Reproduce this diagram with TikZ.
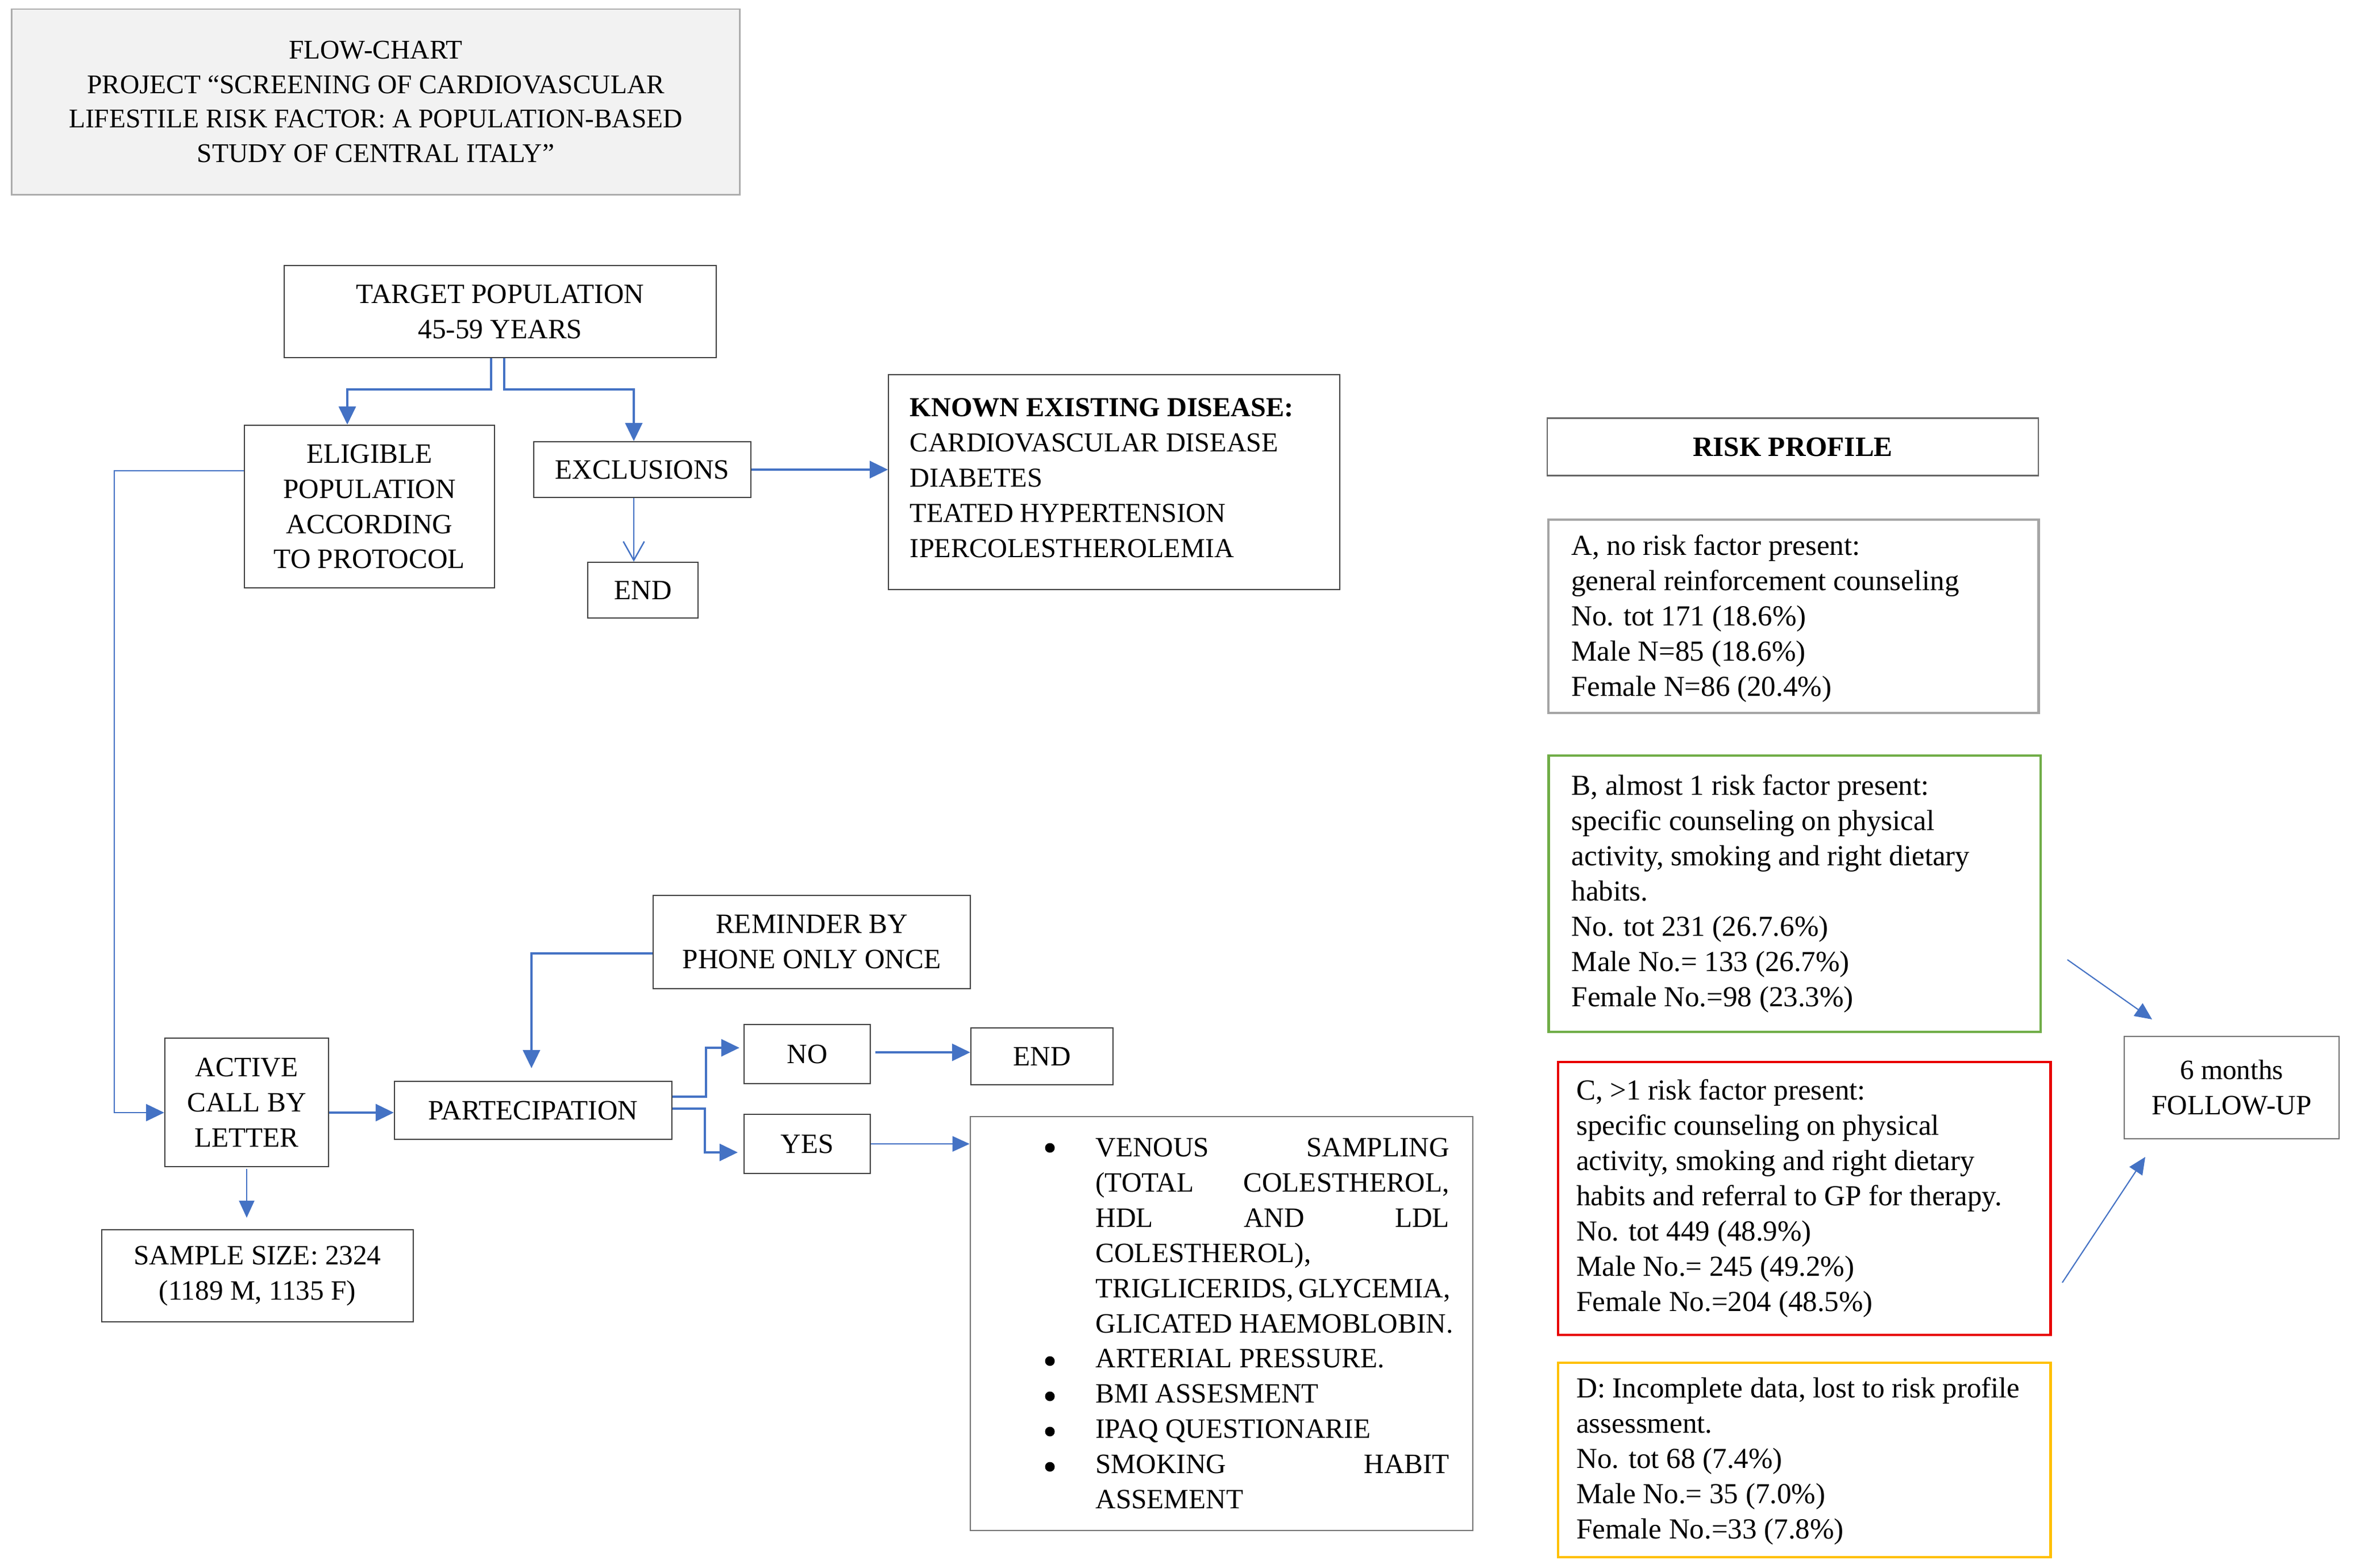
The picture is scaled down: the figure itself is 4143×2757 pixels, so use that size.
\documentclass[tikz,border=0pt]{standalone}
\usepackage{fontspec}
\setmainfont{Liberation Serif}
\usetikzlibrary{arrows.meta}
\definecolor{arrowblue}{HTML}{4472C4}
\definecolor{titlefill}{HTML}{F2F2F2}
\definecolor{rgray}{HTML}{A5A5A5}
\definecolor{rgreen}{HTML}{70AD47}
\definecolor{rred}{HTML}{E80000}
\definecolor{ryellow}{HTML}{FFC000}
\newcommand{\ListLine}[2]{\makebox[0.85cm][l]{}\makebox[6.22cm][#1]{#2}}
\begin{document}
\begin{tikzpicture}[x=0.01cm,y=-0.01cm,
  every node/.style={font=\fontsize{14}{17.6}\selectfont},
  box/.style={draw=black!75, line width=0.6pt, inner sep=0pt, align=center},
  rbox/.style={line width=1.3pt, inner sep=0pt},
  txt/.style={anchor=west, align=left, inner sep=0pt},
  rtxt/.style={txt, font=\fontsize{14.5}{17.6}\selectfont},
  dot/.style={fill=black},
  arr/.style={draw=arrowblue, line width=1.1pt, -{Triangle[length=0.32cm,width=0.3cm]}},
  arrmid/.style={draw=arrowblue, line width=0.8pt, -{Triangle[length=0.32cm,width=0.3cm]}},
  arrthin/.style={draw=arrowblue, line width=0.6pt, -{Triangle[length=0.3cm,width=0.27cm]}},
  openarr/.style={draw=arrowblue, line width=0.7pt, -{Straight Barb[length=0.33cm,width=0.37cm]}}
]
\useasboundingbox (0,0) rectangle (4143,2757);

% title
\node[draw=gray!65, fill=titlefill, line width=0.8pt, minimum width=12.81cm, minimum height=3.26cm, inner sep=0pt, align=center, font=\fontsize{13.5}{17.3}\selectfont] (title) at (661,179)
 {FLOW-CHART\\PROJECT “SCREENING OF CARDIOVASCULAR\\LIFESTILE RISK FACTOR: A POPULATION-BASED\\STUDY OF CENTRAL ITALY”};

% left flow
\node[box, minimum width=7.59cm, minimum height=1.62cm] (target) at (880,548) {TARGET POPULATION\\45-59 YEARS};
\node[box, minimum width=4.40cm, minimum height=2.86cm] (eligible) at (650,891) {ELIGIBLE\\POPULATION\\ACCORDING\\TO PROTOCOL};
\node[box, minimum width=3.82cm, minimum height=0.98cm] (exclusions) at (1130,826) {EXCLUSIONS};
\node[box, minimum width=1.94cm, minimum height=0.98cm] (end1) at (1131,1038) {END};
\node[box, minimum width=7.93cm, minimum height=3.77cm] (known) at (1960,848) {};
\node[txt, font=\fontsize{13.7}{17.6}\selectfont] (knowntxt) at ([xshift=0.38cm,yshift=0.07cm]known.west)
 {\textbf{KNOWN EXISTING DISEASE:}\\CARDIOVASCULAR DISEASE\\DIABETES\\TEATED HYPERTENSION\\IPERCOLESTHEROLEMIA};

\node[box, minimum width=2.88cm, minimum height=2.26cm] (active) at (434,1939) {ACTIVE\\CALL BY\\LETTER};
\node[box, minimum width=5.47cm, minimum height=1.62cm] (sample) at (453,2244) {SAMPLE SIZE: 2324\\(1189 M, 1135 F)};
\node[box, minimum width=4.88cm, minimum height=1.02cm] (partecipation) at (938,1953) {PARTECIPATION};
\node[box, minimum width=5.58cm, minimum height=1.64cm] (reminder) at (1428,1657) {REMINDER BY\\PHONE ONLY ONCE};
\node[box, minimum width=2.22cm, minimum height=1.04cm] (no) at (1420,1854) {NO};
\node[box, minimum width=2.22cm, minimum height=1.04cm] (yes) at (1420,2012) {YES};
\node[box, minimum width=2.50cm, minimum height=1.00cm] (end2) at (1833,1858) {END};
\node[box, draw=black!55, minimum width=8.84cm, minimum height=7.28cm] (list) at (2149,2328) {};
\node[txt] (listtxt) at ([xshift=1.36cm]list.west)
 {\ListLine{s}{VENOUS SAMPLING}\\
  \ListLine{s}{(TOTAL COLESTHEROL,}\\
  \ListLine{s}{HDL AND LDL}\\
  \ListLine{l}{COLESTHEROL),}\\
  \ListLine{s}{TRIGLICERIDS, GLYCEMIA,}\\
  \ListLine{l}{GLICATED HAEMOBLOBIN.}\\
  \ListLine{l}{ARTERIAL PRESSURE.}\\
  \ListLine{l}{BMI ASSESMENT}\\
  \ListLine{l}{IPAQ QUESTIONARIE}\\
  \ListLine{s}{SMOKING HABIT}\\
  \ListLine{l}{ASSEMENT}};
\foreach \yy in {2019,2394,2456,2518,2580}
  \fill[dot] (1847,\yy) circle[radius=0.085cm];

% risk profile
\node[box, draw=black!60, minimum width=8.64cm, minimum height=1.01cm] (risk) at (3154,786) {\textbf{RISK PROFILE}};
\node[rbox, draw=rgray, minimum width=8.62cm, minimum height=3.40cm] (boxA) at (3155,1084) {};
\node[rtxt] (txtA) at ([xshift=0.42cm,yshift=-0.04cm]boxA.west)
 {A, no risk factor present:\\general reinforcement counseling\\No. tot 171 (18.6\%)\\Male N=85 (18.6\%)\\Female N=86 (20.4\%)};
\node[rbox, draw=rgreen, minimum width=8.65cm, minimum height=4.86cm] (boxB) at (3157,1572) {};
\node[rtxt] (txtB) at ([xshift=0.42cm]boxB.west)
 {B, almost 1 risk factor present:\\specific counseling on physical\\activity, smoking and right dietary\\habits.\\No. tot 231 (26.7.6\%)\\Male No.= 133 (26.7\%)\\Female No.=98 (23.3\%)};
\node[rbox, draw=rred, minimum width=8.66cm, minimum height=4.80cm] (boxC) at (3174,2108) {};
\node[rtxt] (txtC) at ([xshift=0.34cm]boxC.west)
 {C, >1 risk factor present:\\specific counseling on physical\\activity, smoking and right dietary\\habits and referral to GP for therapy.\\No. tot 449 (48.9\%)\\Male No.= 245 (49.2\%)\\Female No.=204 (48.5\%)};
\node[rbox, draw=ryellow, minimum width=8.66cm, minimum height=3.42cm] (boxD) at (3174,2568) {};
\node[rtxt] (txtD) at ([xshift=0.34cm,yshift=-0.02cm]boxD.west)
 {D: Incomplete data, lost to risk profile\\assessment.\\No. tot 68 (7.4\%)\\Male No.= 35 (7.0\%)\\Female No.=33 (7.8\%)};
\node[box, draw=black!55, minimum width=3.78cm, minimum height=1.80cm] (follow) at (3926,1913) {6 months\\FOLLOW-UP};

% coordinates for bends
\coordinate (tA) at (864,685);
\coordinate (tL) at (611,685);
\coordinate (tB) at (887,685);
\coordinate (tR) at (1115,685);
\coordinate (el1) at (201,828);
\coordinate (el2) at (201,1957);
\coordinate (rA) at (935,1677);
\coordinate (pn1) at (1242,1929);
\coordinate (pn2) at (1242,1843);
\coordinate (py1) at (1240,1950);
\coordinate (py2) at (1240,2027);
\coordinate (fb1) at (3637,1688);
\coordinate (fb2) at (3786,1793);
\coordinate (fc1) at (3628,2256);
\coordinate (fc2) at (3774,2035);

% connectors
\draw[arr] (target.south -| tA) -- (tA) -- (tL) -- (eligible.north -| tL);
\draw[arr] (target.south -| tB) -- (tB) -- (tR) -- (exclusions.north -| tR);
\draw[openarr] (exclusions.south -| tR) -- (end1.north -| tR);
\draw[arr] (exclusions.east) -- (known.west |- exclusions.east);
\draw[arrmid] (eligible.west |- el1) -- (el1) -- (el2) -- (active.west |- el2);
\draw[arr] (active.east |- el2) -- (partecipation.west |- el2);
\draw[arr] (reminder.west |- rA) -- (rA) -- ([yshift=0.22cm]partecipation.north -| rA);
\draw[arr] (partecipation.east |- pn1) -- (pn1) -- (pn2) -- ([xshift=-0.07cm]no.west |- pn2);
\draw[arr] (partecipation.east |- py1) -- (py1) -- (py2) -- ([xshift=-0.1cm]yes.west |- py2);
\draw[arr] ([xshift=0.08cm,yshift=0.03cm]no.east) -- ([yshift=0.07cm]end2.west);
\draw[arrthin] (yes.east) -- (list.west |- yes.east);
\draw[arrthin, shorten >=0.2cm] ([yshift=-0.03cm]active.south) -- (sample.north -| active.south);
\draw[arrthin] (fb1) -- (fb2);
\draw[arrthin] (fc1) -- (fc2);
\end{tikzpicture}
\end{document}
